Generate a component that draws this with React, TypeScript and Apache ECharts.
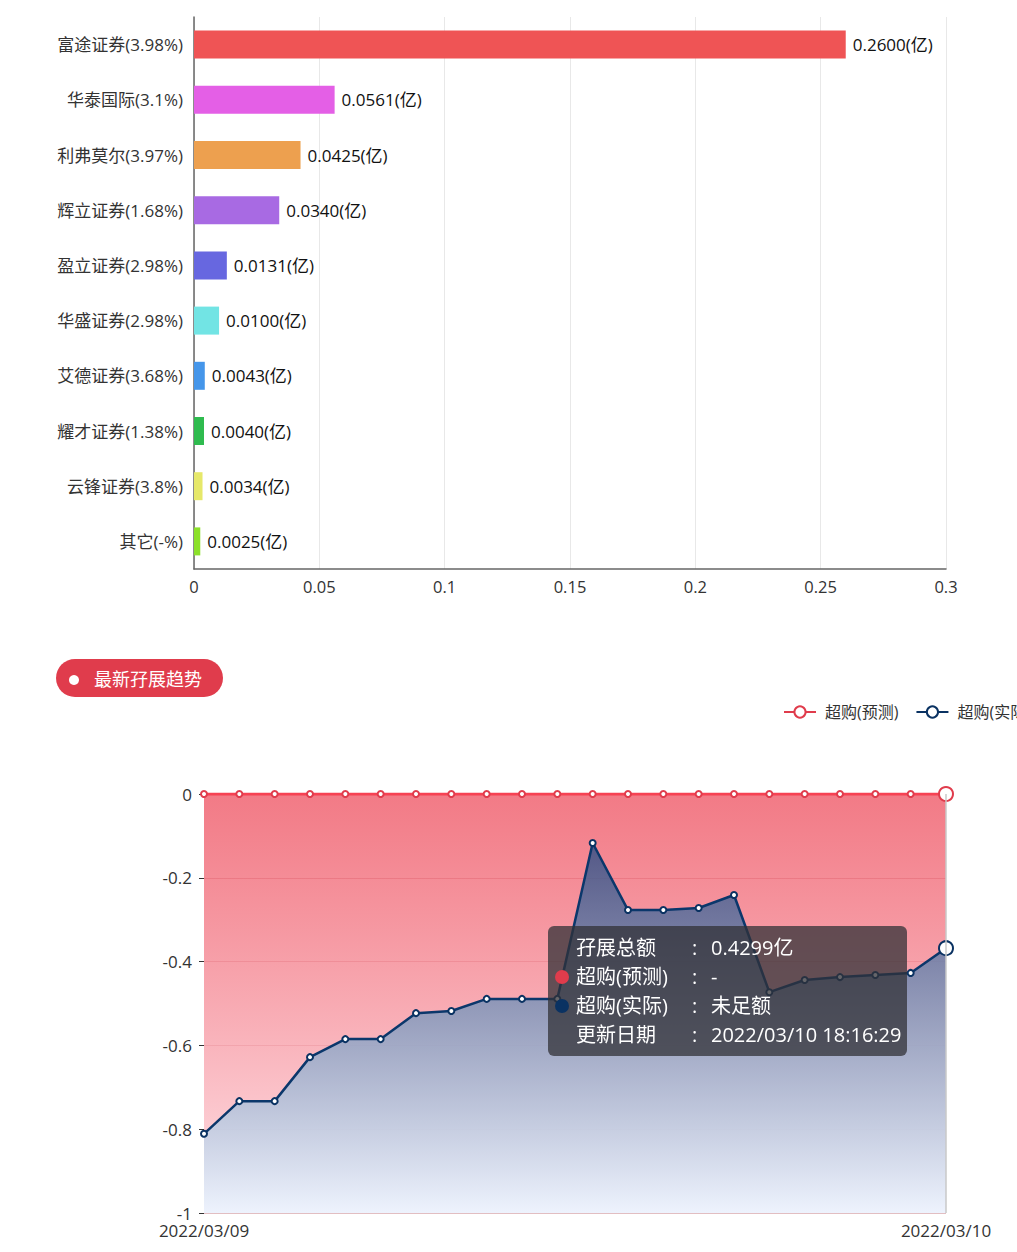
import React, { useEffect, useRef } from "react";
import * as echarts from "echarts";

const FONT = "'Open Sans', 'Noto Sans CJK SC', sans-serif";

// ---- top bar chart data ----
const brokers = [
  "富途证券(3.98%)",
  "华泰国际(3.1%)",
  "利弗莫尔(3.97%)",
  "辉立证券(1.68%)",
  "盈立证券(2.98%)",
  "华盛证券(2.98%)",
  "艾德证券(3.68%)",
  "耀才证券(1.38%)",
  "云锋证券(3.8%)",
  "其它(-%)",
];
const amounts = [0.26, 0.0561, 0.0425, 0.034, 0.0131, 0.01, 0.0043, 0.004, 0.0034, 0.0025];
const barColors = [
  "#ef5455",
  "#e45fe6",
  "#eda04f",
  "#a86ae3",
  "#6767e0",
  "#72e4e4",
  "#4596ea",
  "#2fbb4f",
  "#e6e86a",
  "#8ce02a",
];

// ---- bottom trend chart data ----
const trendTitle = "最新孖展趋势";
const seriesNames = ["超购(预测)", "超购(实际)"];
const dates = [
  "2022/03/09", "2022/03/09", "2022/03/09", "2022/03/09", "2022/03/09", "2022/03/09",
  "2022/03/09", "2022/03/09", "2022/03/09", "2022/03/09", "2022/03/09",
  "2022/03/10", "2022/03/10", "2022/03/10", "2022/03/10", "2022/03/10", "2022/03/10",
  "2022/03/10", "2022/03/10", "2022/03/10", "2022/03/10", "2022/03/10",
];
const forecast = [0, 0, 0, 0, 0, 0, 0, 0, 0, 0, 0, 0, 0, 0, 0, 0, 0, 0, 0, 0, 0, 0];
const actual = [
  -0.811, -0.733, -0.733, -0.628, -0.585, -0.585, -0.523, -0.518, -0.489, -0.489, -0.489,
  -0.117, -0.277, -0.277, -0.272, -0.241, -0.473, -0.444, -0.437, -0.432, -0.427, -0.368,
];
const latestTotal = 0.4299;
const forecastStatus = "-";
const actualStatus = "未足额";
const latestUpdate = "2022/03/10 18:16:29";

const RED = "#e03c4c";
const NAVY = "#0a3262";

export default function App() {
  const ref = useRef<HTMLDivElement>(null);

  useEffect(() => {
    if (!ref.current) return;
    const chart = echarts.init(ref.current, undefined, { renderer: "svg" });
    const last = actual.length - 1;

    const row = (dot: string | null, label: string, value: string) =>
      `<div style="display:flex;align-items:center;height:29px;white-space:nowrap;">` +
      (dot
        ? `<span style="display:inline-block;width:14px;height:14px;border-radius:50%;background:${dot};margin-right:7px;"></span>`
        : `<span style="display:inline-block;width:21px;"></span>`) +
      `<span style="display:inline-block;width:116px;">${label}</span>` +
      `<span style="display:inline-block;width:19px;">:</span>` +
      `<span>${value}</span></div>`;

    chart.setOption({
      animation: false,
      textStyle: { fontFamily: FONT },
      grid: [
        { left: 194, right: 71, top: 17, bottom: 683 },
        { left: 204, right: 71, top: 794, bottom: 39 },
      ],
      xAxis: [
        {
          gridIndex: 0,
          type: "value",
          min: 0,
          max: 0.3,
          interval: 0.05,
          axisLine: { show: true, lineStyle: { color: "#666", width: 1.5 } },
          axisTick: { show: false },
          axisLabel: { color: "#333", fontSize: 16.5, margin: 9, fontFamily: FONT },
          splitLine: { show: true, lineStyle: { color: "#e8e8e8" } },
        },
        {
          gridIndex: 1,
          type: "category",
          boundaryGap: false,
          data: dates,
          axisLine: { show: true, lineStyle: { color: "#ccc" } },
          axisTick: { show: false },
          axisLabel: {
            color: "#333",
            fontSize: 17,
            margin: 9,
            fontFamily: FONT,
            interval: (i: number) => i === 0 || i === dates.length - 1,
          },
          splitLine: { show: false },
        },
      ],
      yAxis: [
        {
          gridIndex: 0,
          type: "category",
          inverse: true,
          data: brokers,
          axisLine: { show: true, lineStyle: { color: "#666", width: 1.5 } },
          axisTick: { show: false },
          axisLabel: { color: "#333", fontSize: 17, margin: 11, fontFamily: FONT },
        },
        {
          gridIndex: 1,
          type: "value",
          min: -1,
          max: 0,
          interval: 0.2,
          axisLine: { show: false },
          axisTick: { show: true, length: 5, lineStyle: { color: "#333" } },
          axisLabel: { color: "#333", fontSize: 17, margin: 12, fontFamily: FONT },
          splitLine: { show: true, lineStyle: { color: "rgba(190,110,120,0.45)" } },
        },
      ],
      legend: {
        data: seriesNames,
        orient: "horizontal",
        left: 778,
        top: 699,
        width: 600,
        itemWidth: 32,
        itemHeight: 14,
        itemGap: 17,
        textStyle: { color: "#333", fontSize: 16, fontFamily: FONT, padding: [0, 4, 0, 4] },
      },
      tooltip: {
        trigger: "axis",
        alwaysShowContent: true,
        transitionDuration: 0,
        backgroundColor: "rgba(50,50,55,0.75)",
        borderWidth: 0,
        padding: [7, 6, 7, 7],
        textStyle: { color: "#fff", fontSize: 20, fontFamily: FONT },
        extraCssText: "border-radius:6px;box-shadow:none;line-height:29px;",
        axisPointer: {
          type: "line",
          lineStyle: { color: "#c8c8c8", width: 1.5, type: "solid" },
        },
        position: () => [548, 926],
        formatter: () =>
          row(null, "孖展总额", `${latestTotal.toFixed(4)}亿`) +
          row(RED, seriesNames[0], forecastStatus) +
          row(NAVY, seriesNames[1], actualStatus) +
          row(null, "更新日期", latestUpdate),
      },
      graphic: [
        {
          type: "rect",
          shape: { x: 56, y: 659, width: 167, height: 38, r: 19 },
          style: { fill: RED },
        },
        {
          type: "circle",
          shape: { cx: 74, cy: 680, r: 5 },
          style: { fill: "#fff" },
        },
        {
          type: "text",
          x: 94,
          y: 679,
          style: {
            text: trendTitle,
            fill: "#fff",
            fontSize: 18,
            fontFamily: FONT,
            verticalAlign: "middle",
          },
        },
      ],
      series: [
        {
          type: "bar",
          xAxisIndex: 0,
          yAxisIndex: 0,
          barWidth: 28,
          data: amounts.map((v, i) => ({ value: v, itemStyle: { color: barColors[i] } })),
          label: {
            show: true,
            position: "right",
            distance: 7,
            color: "#111",
            fontSize: 17,
            fontFamily: FONT,
            formatter: (p: any) => `${Number(p.value).toFixed(4)}(亿)`,
          },
          tooltip: { show: false },
        },
        {
          name: seriesNames[0],
          type: "line",
          xAxisIndex: 1,
          yAxisIndex: 1,
          symbol: "emptyCircle",
          symbolSize: 6,
          data: forecast.map((v, i) => (i === last ? { value: v, symbolSize: 14 } : v)),
          lineStyle: { color: RED, width: 3 },
          itemStyle: { color: RED, borderWidth: 1.5 },
          emphasis: { scale: false },
          areaStyle: {
            origin: "start",
            opacity: 1,
            color: new echarts.graphic.LinearGradient(0, 0, 0, 1, [
              { offset: 0, color: "rgba(215,55,70,0.68)" },
              { offset: 1, color: "rgba(252,200,206,0.8)" },
            ]),
          },
        },
        {
          name: seriesNames[1],
          type: "line",
          xAxisIndex: 1,
          yAxisIndex: 1,
          symbol: "emptyCircle",
          symbolSize: 6,
          data: actual.map((v, i) => (i === last ? { value: v, symbolSize: 14 } : v)),
          lineStyle: { color: NAVY, width: 2.5 },
          itemStyle: { color: NAVY, borderWidth: 1.5 },
          emphasis: { scale: false },
          areaStyle: {
            origin: "start",
            opacity: 1,
            color: new echarts.graphic.LinearGradient(0, 0, 0, 1, [
              { offset: 0, color: "rgba(40,70,120,0.8)" },
              { offset: 1, color: "rgba(215,222,248,0.92)" },
            ]),
          },
        },
      ],
    });

    chart.dispatchAction({ type: "showTip", seriesIndex: 2, dataIndex: last });

    return () => chart.dispose();
  }, []);

  return (
    <div
      ref={ref}
      style={{ position: "absolute", left: 0, top: 0, width: 1017, height: 1252 }}
    />
  );
}
